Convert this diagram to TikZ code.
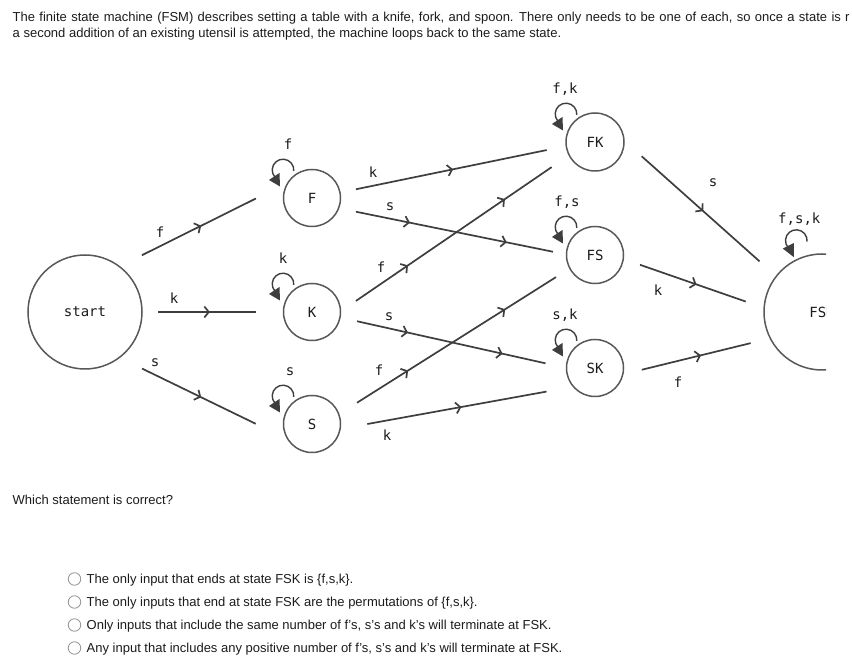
\documentclass[tikz,border=0pt]{standalone}
\usepackage{fontspec}
\setmainfont{Liberation Sans}
\newfontfamily\fsmfont{DejaVu Sans Mono}
\usepackage{tikz}
\usetikzlibrary{arrows.meta,decorations.markings,positioning}
\definecolor{inkgray}{RGB}{62, 62, 62}
\definecolor{ringgray}{RGB}{88, 88, 88}
\definecolor{radiogray}{RGB}{150, 150, 150}
\definecolor{textdark}{RGB}{28, 28, 28}

\begin{document}
\begin{tikzpicture}[x=1pt, y=1pt,
    state/.style={circle, draw=ringgray, line width=1.5pt, minimum size=57pt, inner sep=0pt, outer sep=0pt, font=\fsmfont\fontsize{14}{14}\selectfont, text=textdark},
    lbl/.style={font=\fsmfont\fontsize{14}{14}\selectfont, text=textdark, inner sep=0pt},
    edge/.style={draw=inkgray, line width=1.7pt},
    mid/.style={postaction={decorate}, decoration={markings, mark=at position #1 with {\arrow{Straight Barb[length=4.5pt, width=11pt]}}}},
    twomid/.style 2 args={postaction={decorate}, decoration={markings, mark=at position #1 with {\arrow{Straight Barb[length=4.5pt, width=11pt]}}, mark=at position #2 with {\arrow{Straight Barb[length=4.5pt, width=11pt]}}}},
    loopline/.style={draw=inkgray, line width=1.4pt},
    qtext/.style={font=\fontsize{13}{16}\selectfont, text=textdark, anchor=base west, inner sep=0pt},
    radio/.style={circle, draw=radiogray, line width=0.8pt, minimum size=12.5pt, inner sep=0pt}]
        % Page frame
        \fill[white] (0,0) rectangle (852,664);
        \clip (0,0) rectangle (852,664);

        % Question text
        \node[qtext] (intro1) at (12.5,642.5) {\spaceskip=4.35pt The finite state machine (FSM) describes setting a table with a knife, fork, and spoon. There only needs to be one of each, so once a state is r};
        \node[qtext] (intro2) at (12.5,626.5) {a second addition of an existing utensil is attempted, the machine loops back to the same state.};

        % States
        \node[state, minimum size=114pt] (start) at (85,352) {start};
        \node[state] (F) at (312,466) {F};
        \node[state] (K) at (312,352) {K};
        \node[state] (S) at (312,240) {S};
        \node[state, minimum size=58pt] (FK) at (595,522) {FK};
        \node[state] (FS) at (595,409) {FS};
        \node[state] (SK) at (595,296) {SK};
        \begin{scope}
            \clip (0,0) rectangle (826,664);
            \node[state, minimum size=116pt] (FSK) at (822,352) {FSK};
        \end{scope}

        % Self loops
        \foreach \st/\lab/\dx in {F/f/5, K/k/0, S/s/7, FK/{f,k}/-1, FS/{f,s}/1, SK/{s,k}/-1} {
            \coordinate (\st-loop) at ([shift={(-29pt,28pt)}]\st.center);
            \draw[loopline] ([shift={(-5:10.8pt)}]\st-loop) arc[start angle=-5, end angle=222, radius=10.8pt];
            \fill[inkgray] ([shift={(-14pt,-10pt)}]\st-loop) -- ([shift={(-3.5pt,-3pt)}]\st-loop) -- ([shift={(-3pt,-16.5pt)}]\st-loop) -- cycle;
            \node[lbl, anchor=base] (\st-lab) at ([shift={(\dx pt,20.5pt)}]\st-loop) {\lab};
        }
        \coordinate (FSK-loop) at ([shift={(-25.7pt,71.4pt)}]FSK.center);
        \draw[loopline] ([shift={(-5:10.8pt)}]FSK-loop) arc[start angle=-5, end angle=222, radius=10.8pt];
        \fill[inkgray] ([shift={(-13.5pt,-8pt)}]FSK-loop) -- ([shift={(-2.5pt,-2.5pt)}]FSK-loop) -- ([shift={(-2.5pt,-16.5pt)}]FSK-loop) -- cycle;
        \node[lbl, anchor=base] (FSK-lab) at ([shift={(3pt,17pt)}]FSK-loop) {f,s,k};

        % Transitions out of start
        \draw[edge, mid=0.485, shorten <=25.3pt, shorten >=36pt] (start.53) -- (F.147);
        \draw[edge, mid=0.48, shorten <=16.3pt, shorten >=27.5pt] (start.east) -- (K.west);
        \draw[edge, mid=0.485, shorten <=25.3pt, shorten >=36pt] (start.-53) -- (S.213);
        \node[lbl] (e-sf) at (160,432) {f};
        \node[lbl] (e-sk) at (174,366) {k};
        \node[lbl] (e-ss) at (155,301) {s};

        % Transitions to the pairs
        \draw[edge, mid=0.5, shorten <=16.4pt, shorten >=20pt] (F.11) -- (FK.188);
        \draw[edge, twomid={0.313}{0.738}, shorten <=17.7pt, shorten >=13.8pt] (F.-21) -- (FS.179);
        \draw[edge, twomid={0.295}{0.719}, shorten <=18.7pt, shorten >=21.2pt] (K.1) -- (FK.207.5);
        \draw[edge, twomid={0.3}{0.718}, shorten <=17.5pt, shorten >=21.5pt] (K.-11.7) -- (SK.180);
        \draw[edge, twomid={0.3}{0.72}, shorten <=21.5pt, shorten >=16.4pt] (S.20) -- (FS.208.5);
        \draw[edge, mid=0.52, shorten <=27.7pt, shorten >=27.4pt] (S.-10) -- (SK.221.6);
        \node[lbl] (e-fk) at (373,492) {k};
        \node[lbl] (e-fs) at (390,457) {s};
        \node[lbl] (e-kf) at (381,397) {f};
        \node[lbl] (e-ks) at (389,347) {s};
        \node[lbl] (e-sf2) at (379,294) {f};
        \node[lbl] (e-sk2) at (387,229) {k};

        % Transitions to the full set
        \draw[edge, mid=0.52, shorten <=23.75pt, shorten >=22.5pt] (FK.3.6) -- (FSK.142.4);
        \draw[edge, mid=0.52, shorten <=17.8pt, shorten >=19.5pt] (FS.-8.7) -- (FSK.176);
        \draw[edge, mid=0.53, shorten <=19.6pt, shorten >=20.2pt] (SK.-13.6) -- (FSK.207.5);
        \node[lbl] (e-fks) at (713,481) {s};
        \node[lbl] (e-fsk) at (658,374) {k};
        \node[lbl] (e-skf) at (678,282) {f};

        % Answer choices
        \node[qtext] (ask) at (12.5,159.5) {Which statement is correct?};
        \foreach \i/\y/\txt in {1/80.5/{The only input that ends at state FSK is \{f,s,k\}.},
                                2/57.5/{The only inputs that end at state FSK are the permutations of \{f,s,k\}.},
                                3/34.5/{Only inputs that include the same number of f's, s's and k's will terminate at FSK.},
                                4/11.5/{Any input that includes any positive number of f's, s's and k's will terminate at FSK.}} {
            \node[radio] (radio\i) at (74.5,\y+4.5) {};
            \node[qtext] (choice\i) at (86.5,\y) {\txt};
        }
\end{tikzpicture}
\end{document}
